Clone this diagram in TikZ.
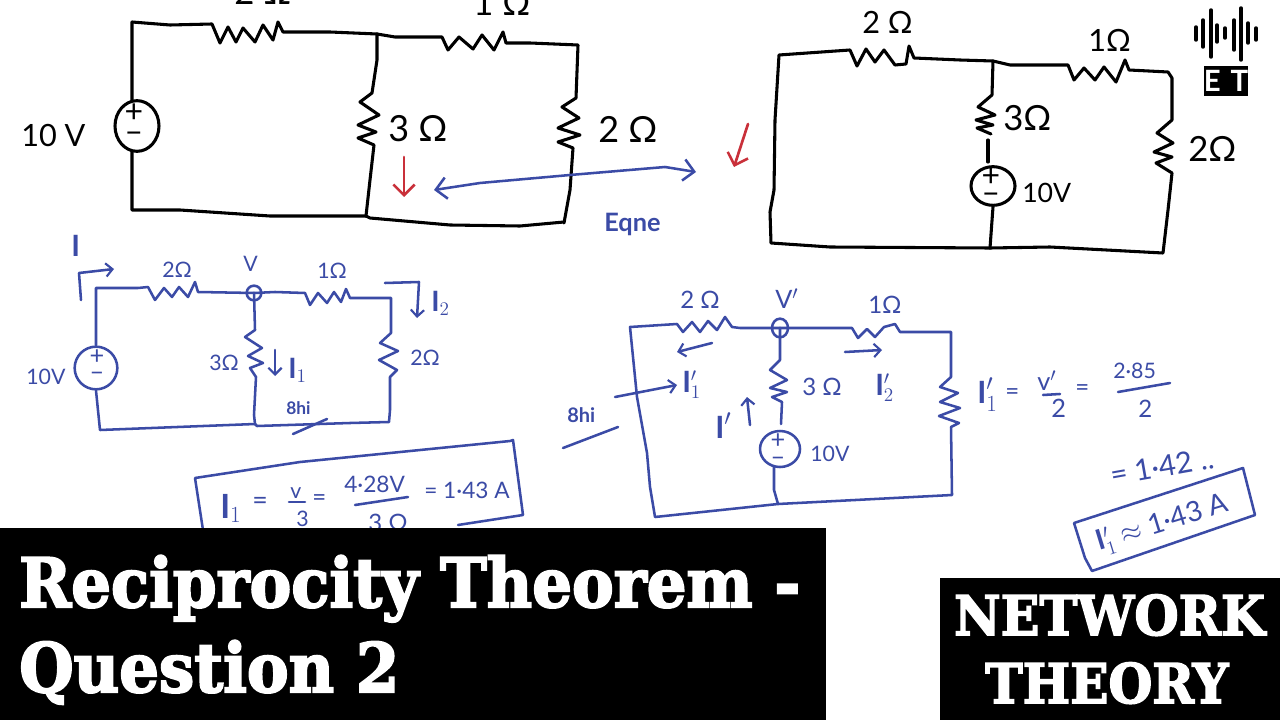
\documentclass[tikz,border=0pt]{standalone}
\usepackage{fontspec}
\usepackage{amsmath}
\usepackage{xcolor}
\usetikzlibrary{shapes.geometric, arrows.meta}
\setmainfont{Lato}
\newfontfamily\slabfont[FakeBold=3]{DejaVu Serif Bold}
\definecolor{penblue}{HTML}{3B4BA6}
\definecolor{penred}{HTML}{C9303A}
\newcommand{\hI}{\mathbf{I}}
\newcommand{\fs}[1]{\fontsize{#1}{#1}\selectfont}
\tikzset{
  inkK/.style={line width=2.3pt, black, line join=round, line cap=round},
  inkB/.style={line width=1.9pt, penblue, line join=round, line cap=round},
  inkR/.style={line width=2pt, penred, line cap=round},
  barb/.style={-{Straight Barb[length=8pt,width=16pt,line width=1.9pt]}},
  barbs/.style={-{Straight Barb[length=5pt,width=10pt,line width=1.6pt]}},
  txtK/.style={black, anchor=base west, inner sep=0pt, font=\fs{23}},
  txtB/.style={penblue, anchor=base west, inner sep=0pt, font=\fs{16}},
  srcK/.style={ellipse, draw, inkK, inner sep=0pt, minimum width=33pt, minimum height=38pt},
  srcB/.style={ellipse, draw, inkB, inner sep=0pt, minimum width=32pt, minimum height=32pt},
  signK/.style={black, inner sep=0pt, font=\fs{24}},
  signB/.style={penblue, inner sep=0pt, font=\fs{19}},
  bigT/.style={white, anchor=base west, inner sep=0pt, font=\slabfont\fs{51}},
  nodeO/.style={circle, draw, inkB, inner sep=0pt, minimum size=11pt}
}
\begin{document}
\begin{tikzpicture}[x=0.75pt,y=-0.75pt]
\useasboundingbox (0,0) rectangle (1280,720);
\clip (0,0) rectangle (1280,720);
\fill[white] (0,0) rectangle (1280,720);

% top left circuit
\coordinate (ja) at (377,34);
\coordinate (jb) at (366,216);
\node[srcK] (srca) at (137,126) {};
\node[signK] (pa) at (134,113) {+};
\node[signK] (ma) at (134,137) {--};
\draw[inkK] (132,101) -- (132,22) -- (170,25) -- (212,24) -- (220,43) -- (228,27) -- (236,42) -- (243,28) -- (255,42) -- (263,25) -- (273,40) -- (278,22) -- (283,32) -- (330,32) -- (ja);
\draw[inkK] (ja) -- (395,37) -- (442,37) -- (448,50) -- (459,37) -- (473,49) -- (482,35) -- (494,50) -- (503,32) -- (506,43) -- (530,43) -- (578,45) -- (576,98) -- (562,107) -- (579,118) -- (558,128) -- (580,135) -- (558,142) -- (573,148) -- (570,190) -- (564,223);
\draw[inkK] (ja) -- (377,60) -- (372,93) -- (360,102) -- (379,115) -- (358,125) -- (376,132) -- (358,138) -- (374,145) -- (370,180) -- (jb);
\draw[inkK] (132,151) -- (132,210) -- (180,210) -- (270,216) -- (jb);
\draw[inkK] (jb) -- (370,218) -- (450,225) -- (520,226) -- (564,222);
\node[txtK, font=\fs{26}] (ra) at (234,5) {2 Ω};
\node[txtK, font=\fs{26}] (rb) at (473,16) {1 Ω};
\node[txtK, font=\fs{27}] (rc) at (388,142) {3 Ω};
\node[txtK, font=\fs{27}] (rd) at (598,143) {2 Ω};
\node[txtK] (va) at (21,147) {10 V};
\draw[inkR, barb] (404,157) -- (404,197); % red arrow
\draw[inkB, barb] (665,167) -- (696,172);
\draw[inkB, barb] (665,167) -- (570,175) -- (480,183) -- (434,190);
\node[txtB, font=\bfseries\fs{19}] (eq) at (604,232) {Eqne};

% top right circuit
\coordinate (jc) at (993,61);
\coordinate (jd) at (990,248);
\draw[inkR, barb] (748,124) -- (734,167);
\node[srcK, minimum width=33pt, minimum height=29pt] (srcb) at (993,186) {};
\node[signK] (pb) at (991,177) {+};
\node[signK] (mb) at (991,198) {--};
\draw[inkK] (jc) -- (960,60) -- (914,58) -- (909,46) -- (906,64) -- (895,65) -- (884,50) -- (875,62) -- (866,49) -- (857,66) -- (850,50) -- (779,55) -- (775,120) -- (774,190) -- (770,212) -- (771,243) -- (830,247) -- (jd);
\draw[inkK] (jc) -- (1010,65) -- (1068,65) -- (1074,80) -- (1084,68) -- (1095,80) -- (1104,67) -- (1116,82) -- (1125,60) -- (1129,70) -- (1168,72) -- (1172,78) -- (1172,120) -- (1157,133) -- (1173,143) -- (1154,152) -- (1172,157) -- (1156,163) -- (1172,173) -- (1168,210) -- (1163,253) -- (1050,247) -- (jd);
\draw[inkK] (jc) -- (992,95) -- (978,107) -- (995,115) -- (976,120) -- (993,125) -- (977,128) -- (991,134);
\draw[inkK] (988,140) -- (988,162);
\draw[inkK] (srcb.south) -- (jd);
\node[txtK] (re) at (862,34) {2 Ω};
\node[txtK] (rf) at (1088,52) {1Ω};
\node[txtK, font=\fs{26}] (rg) at (1003,131) {3Ω};
\node[txtK, font=\fs{26}] (rh) at (1188,162) {2Ω};
\node[txtK, font=\fs{20}] (vb) at (1022,203) {10V};

% logo
\foreach \xb/\ya/\yb in {1196/27/40, 1203/20/47, 1211/10/57, 1217/25/42, 1225/28/38, 1234/20/50, 1241/8/60, 1248/23/43, 1256/28/40}
  \draw[line width=2.6pt, black, line cap=round] (\xb,\ya) -- (\xb,\yb);
\node[fill=black, text=white, inner sep=0pt, minimum width=32pt, minimum height=23pt, font=\bfseries\fs{22}] (logo) at (1226,81) {E\,\,T};

% blue circuit with I and V
\node[nodeO, minimum size=11pt] (nv) at (254,293) {};
\node[srcB] (srcc) at (96,368) {};
\node[signB] (pc) at (97,357) {+};
\node[signB] (mc) at (97,376) {--};
\draw[inkB] (nv.center) -- (198,292) -- (195,282) -- (188,297) -- (179,287) -- (172,297) -- (164,288) -- (155,300) -- (148,287) -- (138,288) -- (96,288) -- (srcc.north);
\draw[inkB] (nv.center) -- (275,292) -- (305,293) -- (310,305) -- (318,293) -- (327,303) -- (334,292) -- (341,302) -- (346,289) -- (350,298) -- (391,298) -- (391,333) -- (380,343) -- (398,351) -- (379,360) -- (397,370) -- (390,377) -- (390,410) -- (389,422) -- (350,423) -- (257,426) -- (255,424);
\draw[inkB] (nv.center) -- (255,330) -- (245,337) -- (262,348) -- (248,356) -- (263,363) -- (250,368) -- (256,377) -- (254,415) -- (255,424);
\draw[inkB] (srcc.south) -- (100,430) -- (255,424);
\draw[inkB, barbs] (81,300) -- (79,273) -- (114,269);
\draw[inkB, barbs] (385,283) -- (419,282) -- (417,318);
\draw[inkB, barbs] (275,350) -- (275,376);
\draw[inkB] (293,434) -- (327,419);
\node[txtB] (tc) at (71,257) {\fs{22}$\hI$};
\node[txtB] (re1) at (162,277) {2Ω};
\node[txtB] (nvl) at (243,272) {V};
\node[txtB] (rf1) at (317,278) {1Ω};
\node[txtB] (rg1) at (209,370) {3Ω};
\node[txtB] (rh1) at (410,365) {2Ω};
\node[txtB] (vc) at (26,384) {10V};
\node[txtB] (i1) at (288,378) {\fs{21}$\hI_1$};
\node[txtB] (i2) at (431,311) {\fs{21}$\hI_2$};
\node[txtB, font=\bfseries\fs{13}] (shc) at (286,414) {8hi};

% boxed result for I1
\draw[inkB] (203,530) -- (195,478) -- (300,462) -- (510,441) -- (513,440) -- (523,515) -- (458,525);
\node[txtB] (eqa) at (220,518) {\fs{25}$\hI_1$};
\node[txtB, font=\fs{20}] (eqb) at (252,509) {=};
\node[txtB, font=\fs{16}] (eqc) at (290,498) {v};
\draw[inkB] (289,502) -- (305,502);
\node[txtB, font=\fs{16}] (eqd) at (296,526) {3};
\node[txtB, font=\fs{18}] (eqe) at (312,505) {=};
\node[txtB, font=\fs{17}] (eqf) at (344,492) {4·28V};
\draw[inkB] (355,505) -- (408,497);
\node[txtB, font=\fs{18}] (eqg) at (368,531) {3 Ω};
\node[txtB, font=\fs{17}] (eqh) at (424,498) {= 1·43 A};

% blue circuit with V'
\node[nodeO, minimum width=12pt, minimum height=14pt, ellipse] (nw) at (780,328) {};
\node[srcB, minimum width=30pt, minimum height=27pt] (srcd) at (780,449) {};
\node[signB] (pd) at (778,441) {+};
\node[signB] (md) at (778,461) {--};
\draw[inkB] (nw.center) -- (740,328) -- (732,327) -- (725,317) -- (717,330) -- (708,321) -- (700,332) -- (692,322) -- (683,332) -- (677,324) -- (630,327) -- (637,397) -- (647,453) -- (650,487) -- (655,517) -- (778,504);
\draw[inkB] (nw.center) -- (852,328) -- (858,338) -- (867,329) -- (875,337) -- (884,327) -- (895,324) -- (900,332) -- (951,332) -- (951,377) -- (940,387) -- (958,393) -- (940,402) -- (960,408) -- (939,416) -- (959,423) -- (951,427) -- (952,495) -- (778,504);
\draw[inkB] (nw.center) -- (780,360) -- (770,370) -- (787,380) -- (770,388) -- (787,392) -- (772,397) -- (782,402) -- (781,424);
\draw[inkB] (774,467) -- (774,490) -- (778,504);
\draw[inkB, barbs] (712,343) -- (677,352);
\draw[inkB, barbs] (845,352) -- (882,350);
\draw[inkB, barbs] (615,397) -- (677,385);
\draw[inkB, barbs] (750,425) -- (747,397);
\draw[inkB] (563,448) -- (618,427);
\node[txtB, font=\fs{18}] (rj) at (680,308) {2 Ω};
\node[txtB, font=\fs{19}] (nwl) at (775,308) {V$'$};
\node[txtB, font=\fs{18}] (rk) at (868,313) {1Ω};
\node[txtB, font=\fs{18}] (rl) at (802,395) {3 Ω};
\node[txtB] (vd) at (810,461) {10V};
\node[txtB] (ia) at (682,392) {\fs{22}$\hI_1'$};
\node[txtB] (ib) at (875,395) {\fs{22}$\hI_2'$};
\node[txtB] (ic) at (715,438) {\fs{23}$\hI'$};
\node[txtB, font=\bfseries\fs{15}] (shd) at (567,422) {8hi};

% equations on the right
\node[txtB] (fa) at (977,403) {\fs{23}$\hI_1'$};
\node[txtB, font=\fs{18}] (fb) at (1005,399) {=};
\node[txtB, font=\fs{19}] (fc) at (1037,390) {v$'$};
\draw[inkB] (1043,395) -- (1060,394);
\node[txtB, font=\fs{19}] (fd) at (1051,417) {2};
\node[txtB, font=\fs{18}] (fe) at (1075,395) {=};
\node[txtB] (ff) at (1113,378) {2·85};
\draw[inkB] (1118,392) -- (1170,383);
\node[txtB, font=\fs{18}] (fg) at (1138,417) {2};
\node[txtB, rotate=10, font=\fs{22}] (fh) at (1112,486) {= 1·42 ..};
\draw[inkB] (1085,558) -- (1074,523) -- (1243,468) -- (1255,515) -- (1092,571) -- (1085,558);
\node[txtB, rotate=17, font=\fs{18}] (fi) at (1099,551) {\fs{21}$\hI_1'$ $\approx$ 1·43 A};

% title blocks
\fill[black] (0,528) rectangle (826,720);
\fill[black] (940,578) rectangle (1280,720);
\node[bigT, xscale=.92] (ttla) at (19,607) {Reciprocity Theorem -};
\node[bigT, xscale=.92] (ttlb) at (19,692) {Question 2};
\node[bigT, font=\slabfont\fs{41}, xscale=.93] (ttlc) at (954,635) {NETWORK};
\node[bigT, font=\slabfont\fs{41}, xscale=.92] (ttld) at (985,703) {THEORY};
\end{tikzpicture}
\end{document}
